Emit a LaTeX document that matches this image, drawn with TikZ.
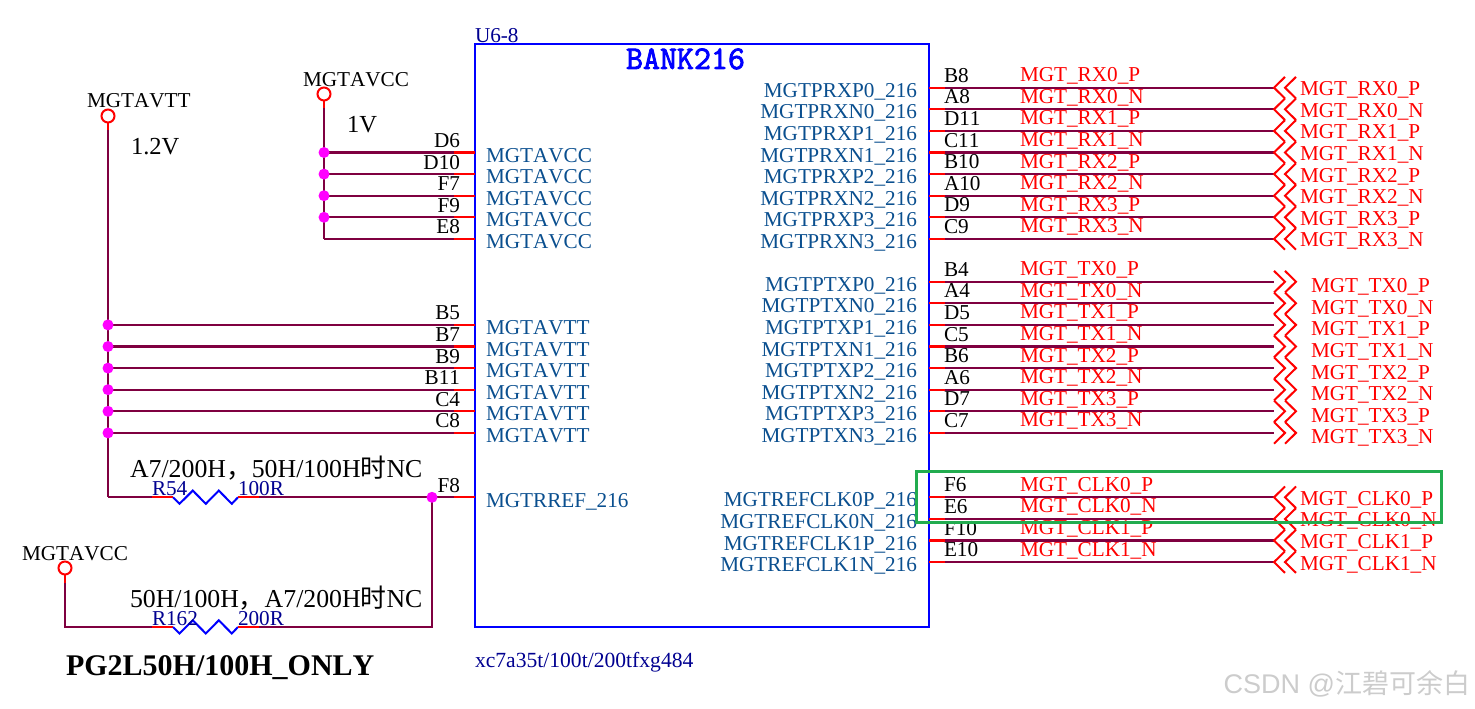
\documentclass[tikz,border=0pt]{standalone}
\usepackage{fontspec}
\setmainfont[Kerning=Off]{Liberation Serif}
\newfontfamily\sansfont{Liberation Sans}
\newfontfamily\titlefont[FakeBold=2.5]{Latin Modern Mono}
\newfontfamily\cjk{Noto Sans CJK SC}
\newcommand{\pinfont}{\fontsize{21.2}{24}\selectfont}
\newcommand{\notefont}{\fontsize{25.8}{28}\selectfont}
\newcommand{\voltfont}{\fontsize{24.5}{28}\selectfont}
\definecolor{wirecol}{HTML}{7F0040}
\definecolor{namecol}{HTML}{0A4F8F}
\definecolor{navycol}{HTML}{000090}
\definecolor{greencol}{HTML}{22AC4F}
\definecolor{dotcol}{HTML}{FF00FF}
\tikzset{
  every node/.style={inner sep=0,outer sep=0,font=\pinfont},
  wire/.style={draw=wirecol,line width=2.2pt},
  stub/.style={draw=red,line width=2.2pt},
  chev/.style={draw=red,line width=2pt},
  res/.style={draw=blue,line width=2pt},
  junction/.style={circle,fill=dotcol,minimum size=11pt},
  power/.style={circle,draw=red,line width=2pt,fill=white,minimum size=13pt},
  pinnum/.style={anchor=base,text=black},
  pinname/.style={anchor=base,text=namecol},
  netname/.style={anchor=base west,text=red},
  refdes/.style={anchor=base west,text=navycol},
  note/.style={anchor=base west,font=\notefont,text=black},
  volt/.style={anchor=base west,font=\voltfont,text=black}
}
\begin{document}
\begin{tikzpicture}[x=1pt,y=-1pt]
\useasboundingbox (0,0) rectangle (1475,709);
\node[draw=blue,line width=2.2pt,anchor=north west,minimum width=454,minimum height=583] (bank) at (475,44) {};
\node[refdes] (unit) at (475,43) {U6-8};
\node[anchor=base west,text=blue,font=\titlefont\fontsize{33}{34}\selectfont] (title) at (626,69) {BANK216};
\node[refdes,font=\fontsize{21.6}{24}\selectfont] (part) at (475,667.5) {xc7a35t/100t/200tfxg484};
% right side pins
\foreach \y/\pin/\chip/\net in {
  87.7/B8/MGTPRXP0/MGT\_RX0\_P, 109.3/A8/MGTPRXN0/MGT\_RX0\_N,
  130.9/D11/MGTPRXP1/MGT\_RX1\_P, 152.5/C11/MGTPRXN1/MGT\_RX1\_N,
  174.1/B10/MGTPRXP2/MGT\_RX2\_P, 195.7/A10/MGTPRXN2/MGT\_RX2\_N,
  217.3/D9/MGTPRXP3/MGT\_RX3\_P, 238.9/C9/MGTPRXN3/MGT\_RX3\_N,
  497.3/F6/MGTREFCLK0P/MGT\_CLK0\_P, 518.9/E6/MGTREFCLK0N/MGT\_CLK0\_N,
  540.5/F10/MGTREFCLK1P/MGT\_CLK1\_P, 562.1/E10/MGTREFCLK1N/MGT\_CLK1\_N} {
  \coordinate (p\pin) at (929,\y);
  \coordinate (w\pin) at (945,\y);
  \coordinate (e\pin) at (1274,\y);
  \draw[stub] (p\pin) -- (w\pin);
  \draw[wire] (w\pin) -- (e\pin);
  \draw[chev] (e\pin) ++(11,-10.8) -- ++(-11,10.8) -- ++(11,10.8) ++(11,-21.6) -- ++(-11,10.8) -- ++(11,10.8);
  \node[pinnum,anchor=base west] (n\pin) at (944,\y-5.5) {\pin};
  \node[pinname,anchor=base east] (c\pin) at (917,\y+9.5) {\chip\_216};
  \node[netname] (l\pin) at (1020,\y-6) {\net};
  \node[netname] (o\pin) at (1300,\y+8) {\net};
}
\foreach \y/\pin/\chip/\net in {
  281.7/B4/MGTPTXP0/MGT\_TX0\_P, 303.3/A4/MGTPTXN0/MGT\_TX0\_N,
  324.9/D5/MGTPTXP1/MGT\_TX1\_P, 346.5/C5/MGTPTXN1/MGT\_TX1\_N,
  368.1/B6/MGTPTXP2/MGT\_TX2\_P, 389.7/A6/MGTPTXN2/MGT\_TX2\_N,
  411.3/D7/MGTPTXP3/MGT\_TX3\_P, 432.9/C7/MGTPTXN3/MGT\_TX3\_N} {
  \coordinate (p\pin) at (929,\y);
  \coordinate (w\pin) at (945,\y);
  \coordinate (e\pin) at (1274,\y);
  \draw[stub] (p\pin) -- (w\pin);
  \draw[wire] (w\pin) -- (e\pin);
  \draw[chev] (e\pin) ++(0,-10.8) -- ++(11,10.8) -- ++(-11,10.8) ++(11,-21.6) -- ++(11,10.8) -- ++(-11,10.8);
  \node[pinnum,anchor=base west] (n\pin) at (944,\y-5.5) {\pin};
  \node[pinname,anchor=base east] (c\pin) at (917,\y+9.5) {\chip\_216};
  \node[netname] (l\pin) at (1020,\y-6) {\net};
  \node[netname] (o\pin) at (1311,\y+11) {\net};
}
% left side supply pins
\node[anchor=base west] (vccname) at (303,86) {MGTAVCC};
\node[power] (vcc) at (324,94) {};
\coordinate (vccstub) at (324,108);
\coordinate (vccend) at (324,238.9);
\node[volt] (onev) at (347,132) {1V};
\draw[stub] (vcc) -- (vccstub);
\draw[wire] (vccstub) -- (vccend);
\foreach \y/\pin in {152.5/D6,174.1/D10,195.7/F7,217.3/F9,238.9/E8} {
  \coordinate (a\pin) at (324,\y);
  \coordinate (w\pin) at (454,\y);
  \coordinate (p\pin) at (475,\y);
  \draw[wire] (a\pin) -- (w\pin);
  \draw[stub] (w\pin) -- (p\pin);
  \node[pinnum,anchor=base east] (n\pin) at (460,\y-5) {\pin};
  \node[pinname,anchor=base west] (c\pin) at (486,\y+9.5) {MGTAVCC};
}
\foreach \pin in {D6,D10,F7,F9} \node[junction] (j\pin) at (a\pin) {};
\node[anchor=base west] (vttname) at (87,107) {MGTAVTT};
\node[power] (vtt) at (108,116) {};
\coordinate (vttstub) at (108,130);
\coordinate (vttend) at (108,497.3);
\node[volt] (onetwov) at (131,154) {1.2V};
\draw[stub] (vtt) -- (vttstub);
\draw[wire] (vttstub) -- (vttend);
\foreach \y/\pin in {324.9/B5,346.5/B7,368.1/B9,389.7/B11,411.3/C4,432.9/C8} {
  \coordinate (a\pin) at (108,\y);
  \coordinate (w\pin) at (454,\y);
  \coordinate (p\pin) at (475,\y);
  \draw[wire] (a\pin) -- (w\pin);
  \draw[stub] (w\pin) -- (p\pin);
  \node[pinnum,anchor=base east] (n\pin) at (460,\y-5) {\pin};
  \node[pinname,anchor=base west] (c\pin) at (486,\y+9.5) {MGTAVTT};
  \node[junction] (j\pin) at (a\pin) {};
}
% reference resistor
\coordinate (r54a) at (152,497.3);
\coordinate (r54b) at (173,497.3);
\coordinate (r54c) at (238,497.3);
\coordinate (r54d) at (259,497.3);
\coordinate (wF8) at (454,497.3);
\coordinate (pF8) at (475,497.3);
\coordinate (tee) at (432,497.3);
\coordinate (teedown) at (432,627);
\coordinate (r162a) at (152,627);
\coordinate (r162b) at (173,627);
\coordinate (r162c) at (238,627);
\coordinate (r162d) at (259,627);
\node[anchor=base west] (vcctwoname) at (22,560) {MGTAVCC};
\node[power] (vcctwo) at (65,568) {};
\coordinate (vcctwostub) at (65,583);
\coordinate (vcctwoend) at (65,627);
\draw[wire] (vttend) -- (r54a);
\draw[stub] (r54a) -- (r54b);
\draw[res] (r54b) -- ++(6.5,6.5) -- ++(13.3,-13.2) -- ++(13,13.2) -- ++(13,-13.2) -- ++(13,13.2) -- (r54c);
\draw[stub] (r54c) -- (r54d);
\draw[wire] (r54d) -- (wF8);
\draw[stub] (wF8) -- (pF8);
\draw[stub] (vcctwo) -- (vcctwostub);
\draw[wire] (vcctwostub) -- (vcctwoend) -- (r162a);
\draw[stub] (r162a) -- (r162b);
\draw[res] (r162b) -- ++(6.5,6.5) -- ++(13.3,-13.2) -- ++(13,13.2) -- ++(13,-13.2) -- ++(13,13.2) -- (r162c);
\draw[stub] (r162c) -- (r162d);
\draw[wire] (r162d) -- (teedown) -- (tee);
\node[junction] (jF8) at (tee) {};
\node[pinnum,anchor=base east] (nF8) at (460,492) {F8};
\node[pinname,anchor=base west] (cF8) at (486,507) {MGTRREF\_216};
\node[refdes] (r54) at (152,495) {R54};
\node[refdes] (r54val) at (238,495) {100R};
\node[refdes] (r162) at (152,625) {R162};
\node[refdes] (r162val) at (238,625) {200R};
\node[note] (noteone) at (130,477) {A7/200H{\cjk ，}50H/100H{\cjk 时}NC};
\node[note] (notetwo) at (130,607) {50H/100H{\cjk ，}A7/200H{\cjk 时}NC};
\node[anchor=base west,font=\bfseries\fontsize{30}{32}\selectfont] (only) at (66,675) {PG2L50H/100H\_ONLY};
% highlight and mark
\node[draw=greencol,line width=3pt,anchor=north west,minimum width=525,minimum height=51] (mark) at (916,471) {};
\node[anchor=base east,text=black!20,font=\sansfont\fontsize{27}{30}\selectfont] (csdn) at (1470,693) {CSDN @{\cjk 江碧可余白}};
\end{tikzpicture}
\end{document}
